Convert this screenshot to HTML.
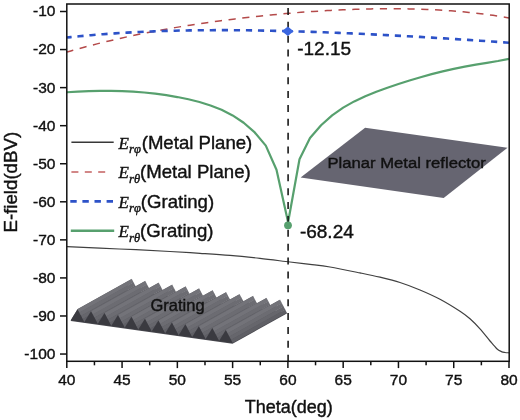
<!DOCTYPE html>
<html><head><meta charset="utf-8"><title>E-field vs Theta</title>
<style>html,body{margin:0;padding:0;background:#fff;}body{width:520px;height:420px;overflow:hidden;}svg{display:block;}</style>
</head><body>
<svg width="520" height="420" viewBox="0 0 520 420">
<style>text{stroke:#111;stroke-width:0.4px;}</style><rect width="520" height="420" fill="#fff"/>
<polygon points="365.1,127.8 507.5,147.8 443.7,198 300.6,177.5" fill="#666571"/>
<text x="327.4" y="167.8" font-family="'Liberation Sans', Arial, sans-serif" font-size="15.5" textLength="158.3" lengthAdjust="spacingAndGlyphs" fill="#111">Planar Metal reflector</text>
<g><polygon points="70.80,320.30 125.10,290.10 286.86,312.75 286.86,313.55 232.56,343.75 70.80,321.10" fill="#4a4a50"/><polygon points="70.80,320.30 72.62,317.31 126.92,287.11 125.10,290.10" fill="#56565c"/><polygon points="72.48,317.54 74.30,314.55 128.60,284.35 126.78,287.34" fill="#5a5a60"/><polygon points="74.17,314.77 75.99,311.79 130.29,281.59 128.47,284.57" fill="#5e5e64"/><polygon points="75.85,312.01 77.67,309.02 131.97,278.82 130.15,281.81" fill="#626268"/><polygon points="77.54,309.24 79.36,312.74 133.66,282.54 131.84,279.04" fill="#737379"/><polygon points="79.22,312.48 81.04,315.97 135.34,285.77 133.52,282.28" fill="#6c6c72"/><polygon points="80.91,315.72 82.73,319.21 137.03,289.01 135.21,285.52" fill="#66666c"/><polygon points="82.59,318.95 84.28,322.19 138.58,291.99 136.89,288.75" fill="#5f5f65"/><polygon points="84.28,322.19 86.10,319.20 140.40,289.00 138.58,291.99" fill="#56565c"/><polygon points="85.97,319.42 87.78,316.44 142.08,286.24 140.26,289.22" fill="#5a5a60"/><polygon points="87.65,316.66 89.47,313.67 143.77,283.47 141.95,286.46" fill="#5e5e64"/><polygon points="89.33,313.89 91.15,310.91 145.45,280.71 143.63,283.69" fill="#626268"/><polygon points="91.02,311.13 92.84,314.63 147.14,284.43 145.32,280.93" fill="#737379"/><polygon points="92.70,314.37 94.52,317.86 148.82,287.66 147.00,284.17" fill="#6c6c72"/><polygon points="94.39,317.60 96.21,321.10 150.51,290.90 148.69,287.40" fill="#66666c"/><polygon points="96.07,320.84 97.76,324.07 152.06,293.87 150.38,290.64" fill="#5f5f65"/><polygon points="97.76,324.07 99.58,321.09 153.88,290.89 152.06,293.87" fill="#56565c"/><polygon points="99.44,321.31 101.26,318.33 155.56,288.13 153.75,291.11" fill="#5a5a60"/><polygon points="101.13,318.55 102.95,315.56 157.25,285.36 155.43,288.35" fill="#5e5e64"/><polygon points="102.81,315.78 104.63,312.80 158.93,282.60 157.11,285.58" fill="#626268"/><polygon points="104.50,313.02 106.32,316.51 160.62,286.31 158.80,282.82" fill="#737379"/><polygon points="106.18,316.25 108.00,319.75 162.30,289.55 160.48,286.05" fill="#6c6c72"/><polygon points="107.87,319.49 109.69,322.98 163.99,292.78 162.17,289.29" fill="#66666c"/><polygon points="109.55,322.73 111.24,325.96 165.54,295.76 163.85,292.53" fill="#5f5f65"/><polygon points="111.24,325.96 113.06,322.98 167.36,292.78 165.54,295.76" fill="#56565c"/><polygon points="112.92,323.20 114.74,320.21 169.04,290.01 167.22,293.00" fill="#5a5a60"/><polygon points="114.61,320.43 116.43,317.45 170.73,287.25 168.91,290.23" fill="#5e5e64"/><polygon points="116.29,317.67 118.11,314.68 172.41,284.48 170.59,287.47" fill="#626268"/><polygon points="117.98,314.91 119.80,318.40 174.10,288.20 172.28,284.71" fill="#737379"/><polygon points="119.66,318.14 121.48,321.64 175.78,291.44 173.96,287.94" fill="#6c6c72"/><polygon points="121.35,321.38 123.17,324.87 177.47,294.67 175.65,291.18" fill="#66666c"/><polygon points="123.03,324.61 124.72,327.85 179.02,297.65 177.33,294.41" fill="#5f5f65"/><polygon points="124.72,327.85 126.54,324.86 180.84,294.66 179.02,297.65" fill="#56565c"/><polygon points="126.41,325.08 128.22,322.10 182.52,291.90 180.70,294.88" fill="#5a5a60"/><polygon points="128.09,322.32 129.91,319.34 184.21,289.14 182.39,292.12" fill="#5e5e64"/><polygon points="129.78,319.56 131.59,316.57 185.89,286.37 184.07,289.36" fill="#626268"/><polygon points="131.46,316.79 133.28,320.29 187.58,290.09 185.76,286.59" fill="#737379"/><polygon points="133.15,320.03 134.96,323.52 189.26,293.32 187.44,289.83" fill="#6c6c72"/><polygon points="134.83,323.26 136.65,326.76 190.95,296.56 189.13,293.06" fill="#66666c"/><polygon points="136.51,326.50 138.20,329.74 192.50,299.54 190.81,296.30" fill="#5f5f65"/><polygon points="138.20,329.74 140.02,326.75 194.32,296.55 192.50,299.54" fill="#56565c"/><polygon points="139.88,326.97 141.70,323.99 196.00,293.79 194.19,296.77" fill="#5a5a60"/><polygon points="141.57,324.21 143.39,321.22 197.69,291.02 195.87,294.01" fill="#5e5e64"/><polygon points="143.25,321.44 145.07,318.46 199.37,288.26 197.56,291.24" fill="#626268"/><polygon points="144.94,318.68 146.76,322.17 201.06,291.97 199.24,288.48" fill="#737379"/><polygon points="146.62,321.92 148.44,325.41 202.74,295.21 200.93,291.72" fill="#6c6c72"/><polygon points="148.31,325.15 150.13,328.65 204.43,298.45 202.61,294.95" fill="#66666c"/><polygon points="150.00,328.39 151.68,331.62 205.98,301.42 204.30,298.19" fill="#5f5f65"/><polygon points="151.68,331.62 153.50,328.64 207.80,298.44 205.98,301.42" fill="#56565c"/><polygon points="153.37,328.86 155.18,325.87 209.48,295.67 207.67,298.66" fill="#5a5a60"/><polygon points="155.05,326.10 156.87,323.11 211.17,292.91 209.35,295.90" fill="#5e5e64"/><polygon points="156.74,323.33 158.55,320.35 212.85,290.15 211.04,293.13" fill="#626268"/><polygon points="158.42,320.57 160.24,324.06 214.54,293.86 212.72,290.37" fill="#737379"/><polygon points="160.11,323.80 161.92,327.30 216.22,297.10 214.41,293.60" fill="#6c6c72"/><polygon points="161.79,327.04 163.61,330.53 217.91,300.33 216.09,296.84" fill="#66666c"/><polygon points="163.47,330.27 165.16,333.51 219.46,303.31 217.77,300.07" fill="#5f5f65"/><polygon points="165.16,333.51 166.98,330.53 221.28,300.33 219.46,303.31" fill="#56565c"/><polygon points="166.84,330.75 168.66,327.76 222.96,297.56 221.14,300.55" fill="#5a5a60"/><polygon points="168.53,327.98 170.35,325.00 224.65,294.80 222.83,297.78" fill="#5e5e64"/><polygon points="170.22,325.22 172.03,322.23 226.33,292.03 224.51,295.02" fill="#626268"/><polygon points="171.90,322.45 173.72,325.95 228.02,295.75 226.20,292.25" fill="#737379"/><polygon points="173.59,325.69 175.40,329.18 229.70,298.98 227.88,295.49" fill="#6c6c72"/><polygon points="175.27,328.93 177.09,332.42 231.39,302.22 229.57,298.73" fill="#66666c"/><polygon points="176.95,332.16 178.64,335.40 232.94,305.20 231.25,301.96" fill="#5f5f65"/><polygon points="178.64,335.40 180.46,332.41 234.76,302.21 232.94,305.20" fill="#56565c"/><polygon points="180.32,332.63 182.14,329.65 236.44,299.45 234.62,302.43" fill="#5a5a60"/><polygon points="182.01,329.87 183.83,326.88 238.13,296.68 236.31,299.67" fill="#5e5e64"/><polygon points="183.69,327.11 185.51,324.12 239.81,293.92 238.00,296.91" fill="#626268"/><polygon points="185.38,324.34 187.20,327.84 241.50,297.64 239.68,294.14" fill="#737379"/><polygon points="187.06,327.58 188.88,331.07 243.18,300.87 241.37,297.38" fill="#6c6c72"/><polygon points="188.75,330.81 190.57,334.31 244.87,304.11 243.05,300.61" fill="#66666c"/><polygon points="190.44,334.05 192.12,337.28 246.42,307.08 244.74,303.85" fill="#5f5f65"/><polygon points="192.12,337.28 193.94,334.30 248.24,304.10 246.42,307.08" fill="#56565c"/><polygon points="193.81,334.52 195.62,331.54 249.92,301.34 248.11,304.32" fill="#5a5a60"/><polygon points="195.49,331.76 197.31,328.77 251.61,298.57 249.79,301.56" fill="#5e5e64"/><polygon points="197.18,328.99 198.99,326.01 253.29,295.81 251.48,298.79" fill="#626268"/><polygon points="198.86,326.23 200.68,329.72 254.98,299.52 253.16,296.03" fill="#737379"/><polygon points="200.55,329.46 202.36,332.96 256.66,302.76 254.85,299.26" fill="#6c6c72"/><polygon points="202.23,332.70 204.05,336.19 258.35,305.99 256.53,302.50" fill="#66666c"/><polygon points="203.92,335.94 205.60,339.17 259.90,308.97 258.22,305.74" fill="#5f5f65"/><polygon points="205.60,339.17 207.42,336.19 261.72,305.99 259.90,308.97" fill="#56565c"/><polygon points="207.29,336.41 209.10,333.42 263.40,303.22 261.59,306.21" fill="#5a5a60"/><polygon points="208.97,333.64 210.79,330.66 265.09,300.46 263.27,303.44" fill="#5e5e64"/><polygon points="210.66,330.88 212.47,327.89 266.77,297.69 264.96,300.68" fill="#626268"/><polygon points="212.34,328.12 214.16,331.61 268.46,301.41 266.64,297.92" fill="#737379"/><polygon points="214.03,331.35 215.84,334.85 270.14,304.65 268.33,301.15" fill="#6c6c72"/><polygon points="215.71,334.59 217.53,338.08 271.83,307.88 270.01,304.39" fill="#66666c"/><polygon points="217.39,337.82 219.08,341.06 273.38,310.86 271.69,307.62" fill="#5f5f65"/><polygon points="219.08,341.06 220.90,338.07 275.20,307.87 273.38,310.86" fill="#56565c"/><polygon points="220.76,338.30 222.58,335.31 276.88,305.11 275.06,308.10" fill="#5a5a60"/><polygon points="222.45,335.53 224.27,332.55 278.57,302.35 276.75,305.33" fill="#5e5e64"/><polygon points="224.13,332.77 225.95,329.78 280.25,299.58 278.44,302.57" fill="#626268"/><polygon points="225.82,330.00 227.64,333.50 281.94,303.30 280.12,299.80" fill="#737379"/><polygon points="227.50,333.24 229.32,336.73 283.62,306.53 281.81,303.04" fill="#6c6c72"/><polygon points="229.19,336.47 231.01,339.97 285.31,309.77 283.49,306.27" fill="#66666c"/><polygon points="230.88,339.71 232.56,342.95 286.86,312.75 285.18,309.51" fill="#5f5f65"/><polygon points="70.80,320.30 77.54,309.24 84.28,322.19" fill="#3a3a40"/><polygon points="84.28,322.19 91.02,311.13 97.76,324.07" fill="#3a3a40"/><polygon points="97.76,324.07 104.50,313.02 111.24,325.96" fill="#3a3a40"/><polygon points="111.24,325.96 117.98,314.91 124.72,327.85" fill="#3a3a40"/><polygon points="124.72,327.85 131.46,316.79 138.20,329.74" fill="#3a3a40"/><polygon points="138.20,329.74 144.94,318.68 151.68,331.62" fill="#3a3a40"/><polygon points="151.68,331.62 158.42,320.57 165.16,333.51" fill="#3a3a40"/><polygon points="165.16,333.51 171.90,322.45 178.64,335.40" fill="#3a3a40"/><polygon points="178.64,335.40 185.38,324.34 192.12,337.28" fill="#3a3a40"/><polygon points="192.12,337.28 198.86,326.23 205.60,339.17" fill="#3a3a40"/><polygon points="205.60,339.17 212.34,328.12 219.08,341.06" fill="#3a3a40"/><polygon points="219.08,341.06 225.82,330.00 232.56,342.95" fill="#3a3a40"/></g>
<text x="150.5" y="310.5" font-family="'Liberation Sans', Arial, sans-serif" font-size="16.5" fill="#111">Grating</text>
<path d="M67.00,246.70 C72.50,246.95 88.50,247.70 100.00,248.20 C111.50,248.70 124.33,249.15 136.00,249.70 C147.67,250.25 159.33,250.90 170.00,251.50 C180.67,252.10 190.00,252.65 200.00,253.30 C210.00,253.95 220.00,254.55 230.00,255.40 C240.00,256.25 250.00,257.30 260.00,258.40 C270.00,259.50 281.67,261.02 290.00,262.00 C298.33,262.98 303.33,263.47 310.00,264.30 C316.67,265.13 321.67,265.57 330.00,267.00 C338.33,268.43 351.67,271.20 360.00,272.90 C368.33,274.60 373.33,275.60 380.00,277.20 C386.67,278.80 393.33,280.37 400.00,282.50 C406.67,284.63 413.33,287.20 420.00,290.00 C426.67,292.80 433.33,295.75 440.00,299.30 C446.67,302.85 455.00,308.05 460.00,311.30 C465.00,314.55 466.67,315.87 470.00,318.80 C473.33,321.73 476.67,325.20 480.00,328.90 C483.33,332.60 487.20,337.70 490.00,341.00 C492.80,344.30 494.90,346.93 496.80,348.70 C498.70,350.47 500.03,350.97 501.40,351.60 C502.77,352.23 503.73,352.30 505.00,352.50 C506.27,352.70 508.33,352.75 509.00,352.80" fill="none" stroke="#404040" stroke-width="1.2"/>
<path d="M67.00,52.09 C68.00,51.80 71.00,50.91 73.00,50.34 C75.00,49.77 77.00,49.20 79.00,48.65 C81.00,48.09 83.00,47.54 85.00,47.00 C87.00,46.47 89.00,45.94 91.00,45.41 C93.00,44.89 95.00,44.38 97.00,43.87 C99.00,43.36 101.00,42.87 103.00,42.38 C105.00,41.89 107.00,41.40 109.00,40.93 C111.00,40.45 113.00,39.98 115.00,39.52 C117.00,39.06 119.00,38.61 121.00,38.16 C123.00,37.71 125.00,37.27 127.00,36.84 C129.00,36.41 131.00,35.98 133.00,35.56 C135.00,35.14 137.00,34.72 139.00,34.32 C141.00,33.91 143.00,33.51 145.00,33.11 C147.00,32.72 149.00,32.33 151.00,31.95 C153.00,31.56 155.00,31.18 157.00,30.81 C159.00,30.44 161.00,30.08 163.00,29.71 C165.00,29.35 167.00,29.00 169.00,28.65 C171.00,28.30 173.00,27.96 175.00,27.62 C177.00,27.28 179.00,26.94 181.00,26.62 C183.00,26.29 185.00,25.96 187.00,25.64 C189.00,25.33 191.00,25.01 193.00,24.70 C195.00,24.40 197.00,24.09 199.00,23.79 C201.00,23.49 203.00,23.20 205.00,22.91 C207.00,22.62 209.00,22.33 211.00,22.05 C213.00,21.77 215.00,21.50 217.00,21.23 C219.00,20.95 221.00,20.69 223.00,20.42 C225.00,20.16 227.00,19.90 229.00,19.65 C231.00,19.40 233.00,19.15 235.00,18.90 C237.00,18.65 239.00,18.41 241.00,18.18 C243.00,17.94 245.00,17.71 247.00,17.48 C249.00,17.25 251.00,17.03 253.00,16.81 C255.00,16.59 257.00,16.37 259.00,16.16 C261.00,15.95 263.00,15.74 265.00,15.54 C267.00,15.33 269.00,15.14 271.00,14.94 C273.00,14.75 275.00,14.55 277.00,14.37 C279.00,14.18 281.00,14.00 283.00,13.82 C285.00,13.64 287.00,13.47 289.00,13.30 C291.00,13.13 293.00,12.96 295.00,12.80 C297.00,12.64 299.00,12.48 301.00,12.33 C303.00,12.18 305.00,12.03 307.00,11.89 C309.00,11.74 311.00,11.60 313.00,11.47 C315.00,11.33 317.00,11.20 319.00,11.08 C321.00,10.95 323.00,10.83 325.00,10.71 C327.00,10.60 329.00,10.48 331.00,10.38 C333.00,10.27 335.00,10.17 337.00,10.07 C339.00,9.97 341.00,9.88 343.00,9.79 C345.00,9.70 347.00,9.62 349.00,9.54 C351.00,9.46 353.00,9.39 355.00,9.32 C357.00,9.26 359.00,9.19 361.00,9.14 C363.00,9.08 365.00,9.03 367.00,8.98 C369.00,8.94 371.00,8.90 373.00,8.86 C375.00,8.83 377.00,8.80 379.00,8.77 C381.00,8.75 383.00,8.73 385.00,8.72 C387.00,8.71 389.00,8.71 391.00,8.71 C393.00,8.71 395.00,8.72 397.00,8.73 C399.00,8.74 401.00,8.76 403.00,8.79 C405.00,8.82 407.00,8.85 409.00,8.89 C411.00,8.93 413.00,8.98 415.00,9.03 C417.00,9.09 419.00,9.15 421.00,9.22 C423.00,9.29 425.00,9.36 427.00,9.45 C429.00,9.53 431.00,9.62 433.00,9.72 C435.00,9.82 437.00,9.93 439.00,10.05 C441.00,10.16 443.00,10.28 445.00,10.42 C447.00,10.55 449.00,10.69 451.00,10.84 C453.00,10.99 455.00,11.15 457.00,11.31 C459.00,11.48 461.00,11.66 463.00,11.84 C465.00,12.03 467.00,12.22 469.00,12.43 C471.00,12.63 473.00,12.85 475.00,13.07 C477.00,13.29 479.00,13.53 481.00,13.77 C483.00,14.02 485.00,14.27 487.00,14.54 C489.00,14.80 491.00,15.08 493.00,15.36 C495.00,15.65 497.00,15.95 499.00,16.26 C501.00,16.57 503.33,16.95 505.00,17.22 C506.67,17.50 508.33,17.79 509.00,17.90" fill="none" stroke="#b44a4a" stroke-width="1.5" stroke-dasharray="7.2,6.60" stroke-dashoffset="0.67"/>
<path d="M67.00,37.55 C68.00,37.44 71.00,37.11 73.00,36.90 C75.00,36.70 77.00,36.49 79.00,36.30 C81.00,36.10 83.00,35.91 85.00,35.72 C87.00,35.54 89.00,35.36 91.00,35.18 C93.00,35.01 95.00,34.84 97.00,34.68 C99.00,34.51 101.00,34.35 103.00,34.20 C105.00,34.05 107.00,33.90 109.00,33.76 C111.00,33.61 113.00,33.48 115.00,33.34 C117.00,33.21 119.00,33.08 121.00,32.96 C123.00,32.83 125.00,32.72 127.00,32.60 C129.00,32.49 131.00,32.38 133.00,32.27 C135.00,32.17 137.00,32.07 139.00,31.97 C141.00,31.87 143.00,31.78 145.00,31.70 C147.00,31.61 149.00,31.52 151.00,31.44 C153.00,31.37 155.00,31.29 157.00,31.22 C159.00,31.15 161.00,31.08 163.00,31.02 C165.00,30.95 167.00,30.89 169.00,30.84 C171.00,30.78 173.00,30.73 175.00,30.68 C177.00,30.63 179.00,30.59 181.00,30.55 C183.00,30.50 185.00,30.47 187.00,30.43 C189.00,30.40 191.00,30.37 193.00,30.34 C195.00,30.31 197.00,30.29 199.00,30.27 C201.00,30.24 203.00,30.23 205.00,30.21 C207.00,30.20 209.00,30.18 211.00,30.18 C213.00,30.17 215.00,30.16 217.00,30.16 C219.00,30.15 221.00,30.15 223.00,30.16 C225.00,30.16 227.00,30.17 229.00,30.17 C231.00,30.18 233.00,30.19 235.00,30.21 C237.00,30.22 239.00,30.24 241.00,30.26 C243.00,30.27 245.00,30.30 247.00,30.32 C249.00,30.34 251.00,30.37 253.00,30.40 C255.00,30.43 257.00,30.46 259.00,30.49 C261.00,30.52 263.00,30.56 265.00,30.60 C267.00,30.64 269.00,30.68 271.00,30.72 C273.00,30.76 275.00,30.80 277.00,30.85 C279.00,30.90 281.17,30.95 283.00,31.00 C284.83,31.04 287.17,31.10 288.00,31.13" fill="none" stroke="#2d52c8" stroke-width="2.6" stroke-dasharray="6.2,5.85" stroke-dashoffset="1.59"/>
<path d="M288.00,31.13 C289.00,31.15 292.00,31.24 294.00,31.29 C296.00,31.35 298.00,31.41 300.00,31.47 C302.00,31.53 304.00,31.59 306.00,31.66 C308.00,31.72 310.00,31.79 312.00,31.86 C314.00,31.93 316.00,32.00 318.00,32.07 C320.00,32.14 322.00,32.21 324.00,32.29 C326.00,32.36 328.00,32.44 330.00,32.52 C332.00,32.60 334.00,32.67 336.00,32.76 C338.00,32.84 340.00,32.92 342.00,33.00 C344.00,33.09 346.00,33.17 348.00,33.26 C350.00,33.35 352.00,33.43 354.00,33.52 C356.00,33.61 358.00,33.70 360.00,33.80 C362.00,33.89 364.00,33.98 366.00,34.08 C368.00,34.17 370.00,34.27 372.00,34.36 C374.00,34.46 376.00,34.56 378.00,34.66 C380.00,34.76 382.00,34.86 384.00,34.96 C386.00,35.06 388.00,35.17 390.00,35.27 C392.00,35.37 394.00,35.48 396.00,35.59 C398.00,35.69 400.00,35.80 402.00,35.91 C404.00,36.02 406.00,36.13 408.00,36.24 C410.00,36.35 412.00,36.46 414.00,36.58 C416.00,36.69 418.00,36.80 420.00,36.92 C422.00,37.03 424.00,37.15 426.00,37.27 C428.00,37.39 430.00,37.50 432.00,37.62 C434.00,37.74 436.00,37.86 438.00,37.98 C440.00,38.11 442.00,38.23 444.00,38.35 C446.00,38.48 448.00,38.60 450.00,38.73 C452.00,38.85 454.00,38.98 456.00,39.11 C458.00,39.23 460.00,39.36 462.00,39.49 C464.00,39.62 466.00,39.75 468.00,39.88 C470.00,40.02 472.00,40.15 474.00,40.28 C476.00,40.42 478.00,40.55 480.00,40.69 C482.00,40.82 484.00,40.96 486.00,41.10 C488.00,41.23 490.00,41.37 492.00,41.51 C494.00,41.65 496.00,41.79 498.00,41.94 C500.00,42.08 502.17,42.23 504.00,42.36 C505.83,42.50 508.17,42.67 509.00,42.73" fill="none" stroke="#2d52c8" stroke-width="2.6" stroke-dasharray="6.2,5.85" stroke-dashoffset="1.55"/>
<path d="M66.80,92.26 L77.85,91.71 L88.91,91.20 L99.97,90.86 L111.02,90.79 L122.07,91.03 L133.13,91.60 L144.19,92.49 L155.24,93.69 L166.30,95.20 L177.35,97.04 L188.40,99.27 L199.46,102.01 L210.51,105.43 L221.57,109.78 L232.62,115.41 L243.68,122.77 L254.74,132.44 L265.80,145.60 L276.50,169.80 L288.10,222.20 L299.50,159.20 L310.01,138.03 L321.06,125.23 L332.12,115.35 L343.18,107.62 L354.23,101.40 L365.29,96.22 L376.34,91.73 L387.39,87.71 L398.45,83.99 L409.50,80.50 L420.56,77.23 L431.62,74.18 L442.67,71.38 L453.73,68.86 L464.78,66.63 L475.83,64.65 L486.89,62.82 L497.94,61.00 L509.00,58.90" fill="none" stroke="#57a06e" stroke-width="2.2" stroke-linejoin="round"/>
<line x1="288.1" y1="7.9" x2="288.1" y2="361" stroke="#1a1a1a" stroke-width="1.6" stroke-dasharray="7,6.87"/>
<polygon points="287.8,26.4 293.7,31.2 287.8,36.0 281.9,31.2" fill="#3a66e0"/>
<circle cx="288" cy="225.3" r="3.9" fill="#57a06e"/>
<g stroke="#111" stroke-width="1.5" font-family="'Liberation Sans', Arial, sans-serif" font-size="15.5" fill="#111"><rect x="66.80" y="4.00" width="442.40" height="357.30" fill="none" stroke="#111" stroke-width="1.5"/><line x1="66.80" y1="361.30" x2="66.80" y2="368.10"/><text stroke="none" x="66.80" y="385.2" text-anchor="middle">40</text><line x1="122.07" y1="361.30" x2="122.07" y2="368.10"/><text stroke="none" x="122.07" y="385.2" text-anchor="middle">45</text><line x1="177.35" y1="361.30" x2="177.35" y2="368.10"/><text stroke="none" x="177.35" y="385.2" text-anchor="middle">50</text><line x1="232.62" y1="361.30" x2="232.62" y2="368.10"/><text stroke="none" x="232.62" y="385.2" text-anchor="middle">55</text><line x1="287.90" y1="361.30" x2="287.90" y2="368.10"/><text stroke="none" x="287.90" y="385.2" text-anchor="middle">60</text><line x1="343.18" y1="361.30" x2="343.18" y2="368.10"/><text stroke="none" x="343.18" y="385.2" text-anchor="middle">65</text><line x1="398.45" y1="361.30" x2="398.45" y2="368.10"/><text stroke="none" x="398.45" y="385.2" text-anchor="middle">70</text><line x1="453.73" y1="361.30" x2="453.73" y2="368.10"/><text stroke="none" x="453.73" y="385.2" text-anchor="middle">75</text><line x1="509.00" y1="361.30" x2="509.00" y2="368.10"/><text stroke="none" x="509.00" y="385.2" text-anchor="middle">80</text><line x1="94.44" y1="361.30" x2="94.44" y2="365.30"/><line x1="149.71" y1="361.30" x2="149.71" y2="365.30"/><line x1="204.99" y1="361.30" x2="204.99" y2="365.30"/><line x1="260.26" y1="361.30" x2="260.26" y2="365.30"/><line x1="315.54" y1="361.30" x2="315.54" y2="365.30"/><line x1="370.81" y1="361.30" x2="370.81" y2="365.30"/><line x1="426.09" y1="361.30" x2="426.09" y2="365.30"/><line x1="481.36" y1="361.30" x2="481.36" y2="365.30"/><line x1="60.00" y1="11.50" x2="66.80" y2="11.50"/><text stroke="none" x="55.4" y="16.40" text-anchor="end">-10</text><line x1="60.00" y1="49.56" x2="66.80" y2="49.56"/><text stroke="none" x="55.4" y="54.46" text-anchor="end">-20</text><line x1="60.00" y1="87.62" x2="66.80" y2="87.62"/><text stroke="none" x="55.4" y="92.52" text-anchor="end">-30</text><line x1="60.00" y1="125.68" x2="66.80" y2="125.68"/><text stroke="none" x="55.4" y="130.58" text-anchor="end">-40</text><line x1="60.00" y1="163.74" x2="66.80" y2="163.74"/><text stroke="none" x="55.4" y="168.64" text-anchor="end">-50</text><line x1="60.00" y1="201.80" x2="66.80" y2="201.80"/><text stroke="none" x="55.4" y="206.70" text-anchor="end">-60</text><line x1="60.00" y1="239.86" x2="66.80" y2="239.86"/><text stroke="none" x="55.4" y="244.76" text-anchor="end">-70</text><line x1="60.00" y1="277.92" x2="66.80" y2="277.92"/><text stroke="none" x="55.4" y="282.82" text-anchor="end">-80</text><line x1="60.00" y1="315.98" x2="66.80" y2="315.98"/><text stroke="none" x="55.4" y="320.88" text-anchor="end">-90</text><line x1="60.00" y1="354.04" x2="66.80" y2="354.04"/><text stroke="none" x="55.4" y="358.94" text-anchor="end">-100</text></g>
<text x="288.8" y="412.7" text-anchor="middle" font-family="'Liberation Sans', Arial, sans-serif" font-size="18" fill="#111">Theta(deg)</text>
<text transform="translate(17.3,182.2) rotate(-90)" text-anchor="middle" font-family="'Liberation Sans', Arial, sans-serif" font-size="18.7" fill="#111">E-field(dBV)</text>
<text x="297.2" y="55.4" font-family="'Liberation Sans', Arial, sans-serif" font-size="19" fill="#111">-12.15</text>
<text x="299.9" y="237.8" font-family="'Liberation Sans', Arial, sans-serif" font-size="19" fill="#111">-68.24</text>
<line x1="71.4" y1="142.30" x2="113.7" y2="142.30" stroke="#383838" stroke-width="1.4"/>
<text x="118.6" y="148.50" font-family="'Liberation Serif', 'Times New Roman', serif" font-style="italic" font-size="17" fill="#111">E<tspan font-size="12.6" dy="4.6">rφ</tspan></text>
<text x="141.7" y="148.50" font-family="'Liberation Sans', Arial, sans-serif" font-size="18.6" fill="#111">(Metal Plane)</text>
<line x1="71.4" y1="172.00" x2="107.0" y2="172.00" stroke="#c46060" stroke-width="1.6" stroke-dasharray="7,6.4"/>
<text x="118.6" y="178.20" font-family="'Liberation Serif', 'Times New Roman', serif" font-style="italic" font-size="17" fill="#111">E<tspan font-size="12.6" dy="4.6">rθ</tspan></text>
<text x="140.1" y="178.20" font-family="'Liberation Sans', Arial, sans-serif" font-size="18.6" fill="#111">(Metal Plane)</text>
<line x1="70.3" y1="201.40" x2="113.2" y2="201.40" stroke="#2d52c8" stroke-width="2.7" stroke-dasharray="6.4,5.7"/>
<text x="118.6" y="207.60" font-family="'Liberation Serif', 'Times New Roman', serif" font-style="italic" font-size="17" fill="#111">E<tspan font-size="12.6" dy="4.6">rφ</tspan></text>
<text x="140.8" y="207.60" font-family="'Liberation Sans', Arial, sans-serif" font-size="18.6" fill="#111">(Grating)</text>
<line x1="70.8" y1="230.80" x2="114.2" y2="230.80" stroke="#57a06e" stroke-width="2.4"/>
<text x="118.6" y="237.00" font-family="'Liberation Serif', 'Times New Roman', serif" font-style="italic" font-size="17" fill="#111">E<tspan font-size="12.6" dy="4.6">rθ</tspan></text>
<text x="140.1" y="237.00" font-family="'Liberation Sans', Arial, sans-serif" font-size="18.6" fill="#111">(Grating)</text>
</svg>
</body></html>
